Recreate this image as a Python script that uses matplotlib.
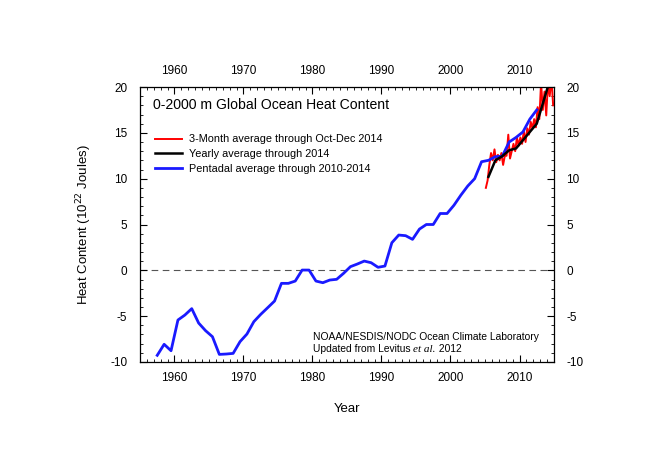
import numpy as np
import matplotlib
matplotlib.use("Agg")
import matplotlib.pyplot as plt
from matplotlib.ticker import MultipleLocator

plt.rcParams['font.family'] = ['Liberation Sans', 'DejaVu Sans']
plt.rcParams['axes.unicode_minus'] = False

# pentadal averages (centre years 1957.5 .. 2012.5)
pent_years = np.arange(1957.5, 2013.0, 1.0)
pent_vals = [-9.27, -8.07, -8.77, -5.42, -4.88, -4.18, -5.75, -6.58, -7.24, -9.17,
             -9.13, -9.06, -7.78, -6.95, -5.60, -4.80, -4.08, -3.35, -1.42, -1.42,
             -1.17, 0.03, 0.03, -1.17, -1.35, -1.06, -0.98, -0.33, 0.40, 0.69,
             1.01, 0.83, 0.33, 0.47, 3.01, 3.85, 3.78, 3.38, 4.50, 5.00,
             5.00, 6.20, 6.20, 7.10, 8.20, 9.20, 10.00, 11.85, 12.00, 12.40,
             12.45, 14.00, 14.50, 15.10, 16.50, 17.50]

# yearly averages 2005 .. 2014
year_years = np.arange(2005.5, 2015.0, 1.0)
year_vals = [10.2, 12.0, 12.45, 13.1, 13.3, 14.2, 15.1, 16.0, 18.5, 21.0]

# 3-month averages Jan-Mar 2005 .. Oct-Dec 2014
qtr_years = np.arange(2005.125, 2015.0, 0.25)
qtr_vals = [9.0, 9.8, 11.5, 12.8, 12.0, 13.2, 11.8, 12.6,
            12.0, 12.8, 11.5, 12.5, 12.5, 14.8, 12.2, 13.0,
            13.8, 13.0, 14.5, 13.6, 14.5, 13.8, 15.2, 14.0,
            15.5, 14.8, 16.2, 15.5, 16.5, 15.6, 17.8, 16.5,
            20.5, 17.5, 19.5, 16.9, 20.5, 19.0, 21.0, 18.0]

fig = plt.figure(figsize=(6.6, 4.76), dpi=100)
ax = fig.add_axes([0.2121, 0.2395, 0.6273, 0.5777])

ax.axhline(0, color='#555555', lw=0.8, ls=(0, (6, 4)), zorder=1)
ax.plot(qtr_years, qtr_vals, color='red', lw=1.4, zorder=2,
        label='3-Month average through Oct-Dec 2014')
ax.plot(year_years, year_vals, color='black', lw=1.8, zorder=4,
        label='Yearly average through 2014')
ax.plot(pent_years, pent_vals, color='#1a1aff', lw=2.0, zorder=3,
        label='Pentadal average through 2010-2014')

ax.set_xlim(1955, 2015)
ax.set_ylim(-10, 20)
ax.xaxis.set_major_locator(MultipleLocator(10))
ax.xaxis.set_minor_locator(MultipleLocator(1))
ax.yaxis.set_major_locator(MultipleLocator(5))
ax.yaxis.set_minor_locator(MultipleLocator(1))
ax.tick_params(which='both', direction='in', top=True, right=True,
               labeltop=True, labelright=True, labelsize=8.5)
ax.tick_params(axis='x', which='both', pad=7)
ax.tick_params(axis='y', which='both', pad=9)
ax.tick_params(which='major', length=5, width=0.8)
ax.tick_params(which='minor', length=2.5, width=0.6)
for s in ax.spines.values():
    s.set_linewidth(0.9)

ax.set_xlabel('Year', fontsize=9.5, labelpad=14)
ax.set_ylabel('Heat Content (10$^{22}$ Joules)', fontsize=9.5, labelpad=12)

ax.text(0.031, 0.9345, '0-2000 m Global Ocean Heat Content', transform=ax.transAxes,
        fontsize=10.1, va='center', ha='left')

ax.legend(loc='upper left', bbox_to_anchor=(0.036, 0.828), frameon=False,
          fontsize=7.8, handlelength=2.5, handletextpad=0.65, labelspacing=0.45,
          borderpad=0, borderaxespad=0)

ax.text(0.417, 0.0898, 'NOAA/NESDIS/NODC Ocean Climate Laboratory',
        transform=ax.transAxes, fontsize=7.4, va='center', ha='left')
t1 = ax.text(0.417, 0.046, 'Updated from Levitus ', transform=ax.transAxes,
             fontsize=7.4, va='center', ha='left')
t2 = ax.annotate('et al.', xy=(1, 0.5), xycoords=t1, va='center', ha='left',
                 fontsize=8, fontstyle='italic', family='Liberation Serif')
ax.annotate(' 2012', xy=(1, 0.5), xycoords=t2, va='center', ha='left', fontsize=7.4)

fig.savefig('out.png', dpi=100)
